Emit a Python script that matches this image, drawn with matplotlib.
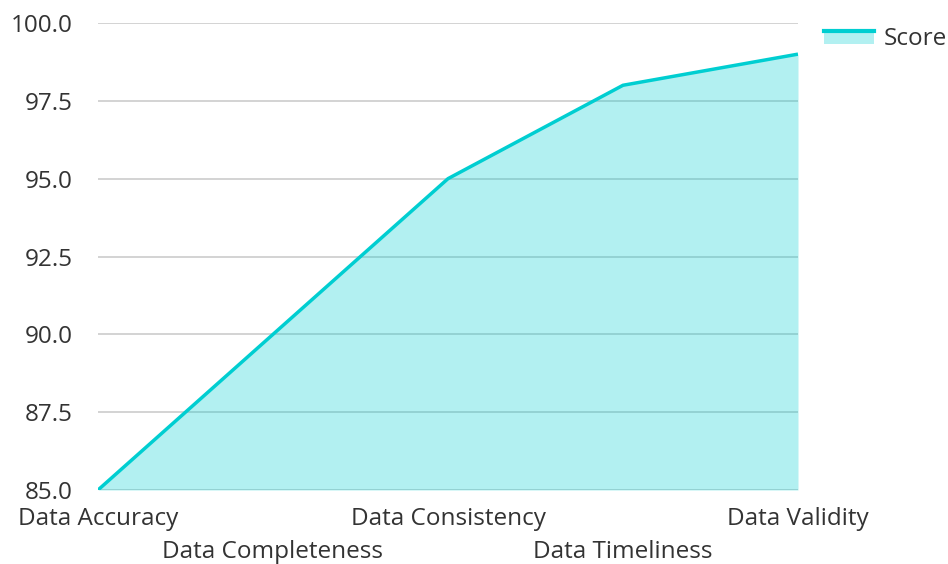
import matplotlib
matplotlib.use("Agg")
import matplotlib.pyplot as plt
from matplotlib.patches import Rectangle
from matplotlib.lines import Line2D
from matplotlib.legend_handler import HandlerBase

categories = ["Data Accuracy", "Data Completeness", "Data Consistency", "Data Timeliness", "Data Validity"]
scores = [85, 90, 95, 98, 99]
yticks = [85.0, 87.5, 90.0, 92.5, 95.0, 97.5, 100.0]

plt.rcParams['font.family'] = ['Open Sans', 'DejaVu Sans']
line_color = "#00CED1"
text_color = "#333333"
fs = 17.5

fig = plt.figure(figsize=(9.48, 5.64), dpi=100)
ax = fig.add_axes([98/948, 1 - 490/564, 700/948, 467/564])

x = list(range(len(categories)))
ax.fill_between(x, scores, 85, color=line_color, alpha=0.3, linewidth=0)
ax.plot(x, scores, color=line_color, linewidth=2.5, solid_capstyle='butt')

ax.set_xlim(0, len(categories) - 1)
ax.set_ylim(85, 100)
ax.set_yticks(yticks)
ax.set_yticklabels([f"{v:.1f}" for v in yticks], fontsize=fs, color=text_color)
ax.set_xticks(x)
ax.set_xticklabels(categories, fontsize=fs, color=text_color)
ax.tick_params(axis='both', length=0)
ax.tick_params(axis='y', pad=18.5)
for i, tick in enumerate(ax.xaxis.get_major_ticks()):
    tick.set_pad(12.5 if i % 2 == 0 else 36)
ax.grid(axis='y', color="#cccccc", linewidth=1.2)
ax.set_axisbelow(True)
for s in ax.spines.values():
    s.set_visible(False)


class AreaHandler(HandlerBase):
    def create_artists(self, legend, orig_handle, xdescent, ydescent,
                       width, height, fontsize, trans):
        r = Rectangle((-xdescent, -ydescent), width, height,
                      facecolor=line_color, alpha=0.3, edgecolor='none',
                      transform=trans)
        top = -ydescent + height * 0.88
        l = Line2D([-xdescent, -xdescent + width], [top, top],
                   color=line_color, linewidth=3, transform=trans)
        return [r, l]


proxy = Rectangle((0, 0), 1, 1)
leg = fig.legend([proxy], ["Score"], loc='upper left',
                 bbox_to_anchor=(824/948, 1 - 27/564), frameon=False,
                 fontsize=fs, handlelength=2.05, handleheight=0.6,
                 handletextpad=0.4, borderpad=0, borderaxespad=0,
                 handler_map={Rectangle: AreaHandler()})
for t in leg.get_texts():
    t.set_color(text_color)

fig.savefig("out.png", dpi=100)
